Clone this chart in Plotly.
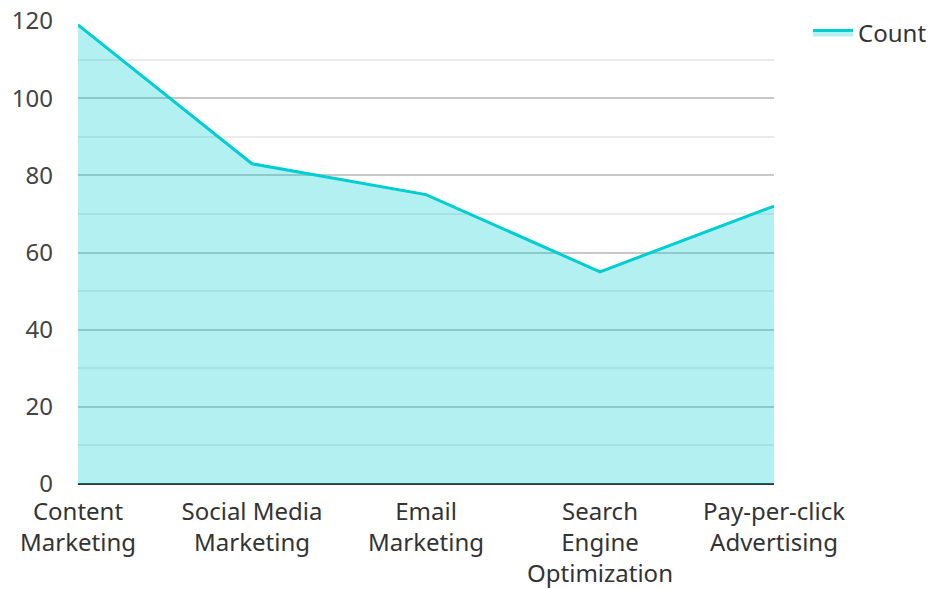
import plotly.graph_objects as go

categories = ["Content<br>Marketing", "Social Media<br>Marketing", "Email<br>Marketing",
              "Search<br>Engine<br>Optimization", "Pay-per-click<br>Advertising"]
counts = [119, 83, 75, 55, 72]
series_name = "Count"

fig = go.Figure()
fig.add_trace(go.Scatter(
    x=categories, y=counts, name=series_name, mode="lines",
    line=dict(color="#00CED1", width=3),
    fill="tozeroy", fillcolor="rgba(0,206,209,0.3)",
))

fig.update_layout(
    width=930, height=589,
    margin=dict(l=78, r=156, t=21, b=105, autoexpand=False),
    paper_bgcolor="white", plot_bgcolor="white",
    font=dict(family="Noto Sans", size=24, color="#444"),
    showlegend=True,
    legend=dict(x=1.049, y=1.023, xanchor="left", yanchor="top",
                font=dict(size=24, color="#333"), bgcolor="rgba(0,0,0,0)",
                itemwidth=40),
    xaxis=dict(range=[0, 4], showgrid=False, showline=False, ticks="",
               automargin=False, ticklabelstandoff=11, ticklabeloverflow="allow",
               tickfont=dict(size=24, color="#333")),
    yaxis=dict(range=[0, 120], dtick=20, showgrid=True, gridcolor="#c8c8c8", gridwidth=1.5,
               zeroline=True, zerolinecolor="#333333", zerolinewidth=2,
               automargin=False, ticklabelstandoff=24, ticklabeloverflow="allow",
               ticks="", tickfont=dict(size=24, color="#444"),
               minor=dict(dtick=10, showgrid=True, gridcolor="#ebebeb", gridwidth=1.5)),
)

fig.write_html("out.html", config={"displayModeBar": False},
               post_script="document.body.style.margin='0';")
